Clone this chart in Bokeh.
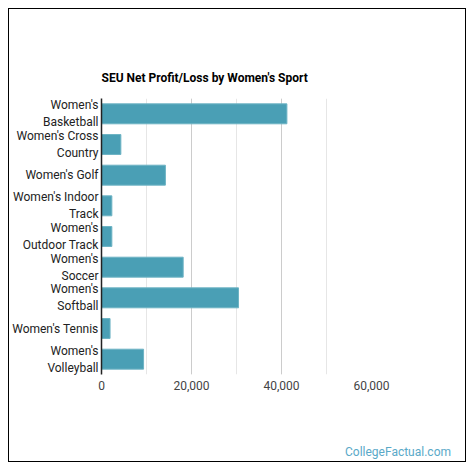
from bokeh.plotting import figure
from bokeh.models import FactorRange, Range1d, NumeralTickFormatter, Title, SingleIntervalTicker, Div
from bokeh.layouts import column
from bokeh.embed import file_html
from bokeh.resources import INLINE

sports = ["Women's\nBasketball", "Women's Cross\nCountry", "Women's Golf",
          "Women's Indoor\nTrack", "Women's\nOutdoor Track", "Women's\nSoccer",
          "Women's\nSoftball", "Women's Tennis", "Women's\nVolleyball"]
profit = [41200, 4300, 14200, 2300, 2300, 18150, 30450, 1900, 9350]
title_text = "SEU Net Profit/Loss by Women's Sport"
watermark = "CollegeFactual.com"

FONT = "Roboto"
p = figure(width=458, height=391, output_backend="svg", toolbar_location=None,
           y_range=FactorRange(factors=list(reversed(sports)), range_padding=0),
           x_range=Range1d(0, 60000),
           min_border_left=92, min_border_right=94, min_border_top=89, min_border_bottom=26)
p.outline_line_color = None
p.background_fill_color = "white"
p.border_fill_color = "white"

p.hbar(y=sports, right=profit, height=0.65, left=0,
       fill_color="#4a9fb5", line_color="#6db3c4", line_width=1)

p.xaxis.ticker = SingleIntervalTicker(interval=20000, num_minor_ticks=2)
p.xaxis.formatter = NumeralTickFormatter(format="0,0")
p.xaxis.axis_line_color = None
p.xaxis.major_tick_line_color = None
p.xaxis.minor_tick_line_color = None
p.xaxis.major_tick_out = 0
p.xaxis.major_tick_in = 0
p.xaxis.minor_tick_out = 0
p.xaxis.major_label_text_font = FONT
p.xaxis.major_label_text_font_size = "12px"
p.xaxis.major_label_text_color = "#444444"
p.xaxis.major_label_standoff = 6

p.yaxis.axis_line_color = "#222222"
p.yaxis.axis_line_width = 1.5
p.yaxis.major_tick_line_color = None
p.yaxis.minor_tick_line_color = None
p.yaxis.major_tick_out = 0
p.yaxis.major_tick_in = 0
p.yaxis.major_label_text_font = FONT
p.yaxis.major_label_text_font_size = "12px"
p.yaxis.major_label_text_color = "#222222"
p.yaxis.major_label_standoff = 3

p.ygrid.grid_line_color = None
p.xgrid.grid_line_color = "#cccccc"
p.xgrid.minor_grid_line_color = "#e6e6e6"

t = Title(text=title_text, text_font=FONT, text_font_size="12px", text_font_style="bold",
          text_color="#000000", align="left", offset=0, standoff=28)
p.add_layout(t, "above")

wm = Div(text=watermark, margin=(45, 14, 0, 0), align="end",
         styles={"font-family": "Roboto", "font-size": "12px", "color": "#5aa9c8",
                 "line-height": "14px"})

layout = column(p, wm, width=458, height=454, margin=(8, 0, 0, 8),
                styles={"border": "1px solid #000", "background": "white"})

open("out.html", "w").write(file_html(layout, INLINE))
